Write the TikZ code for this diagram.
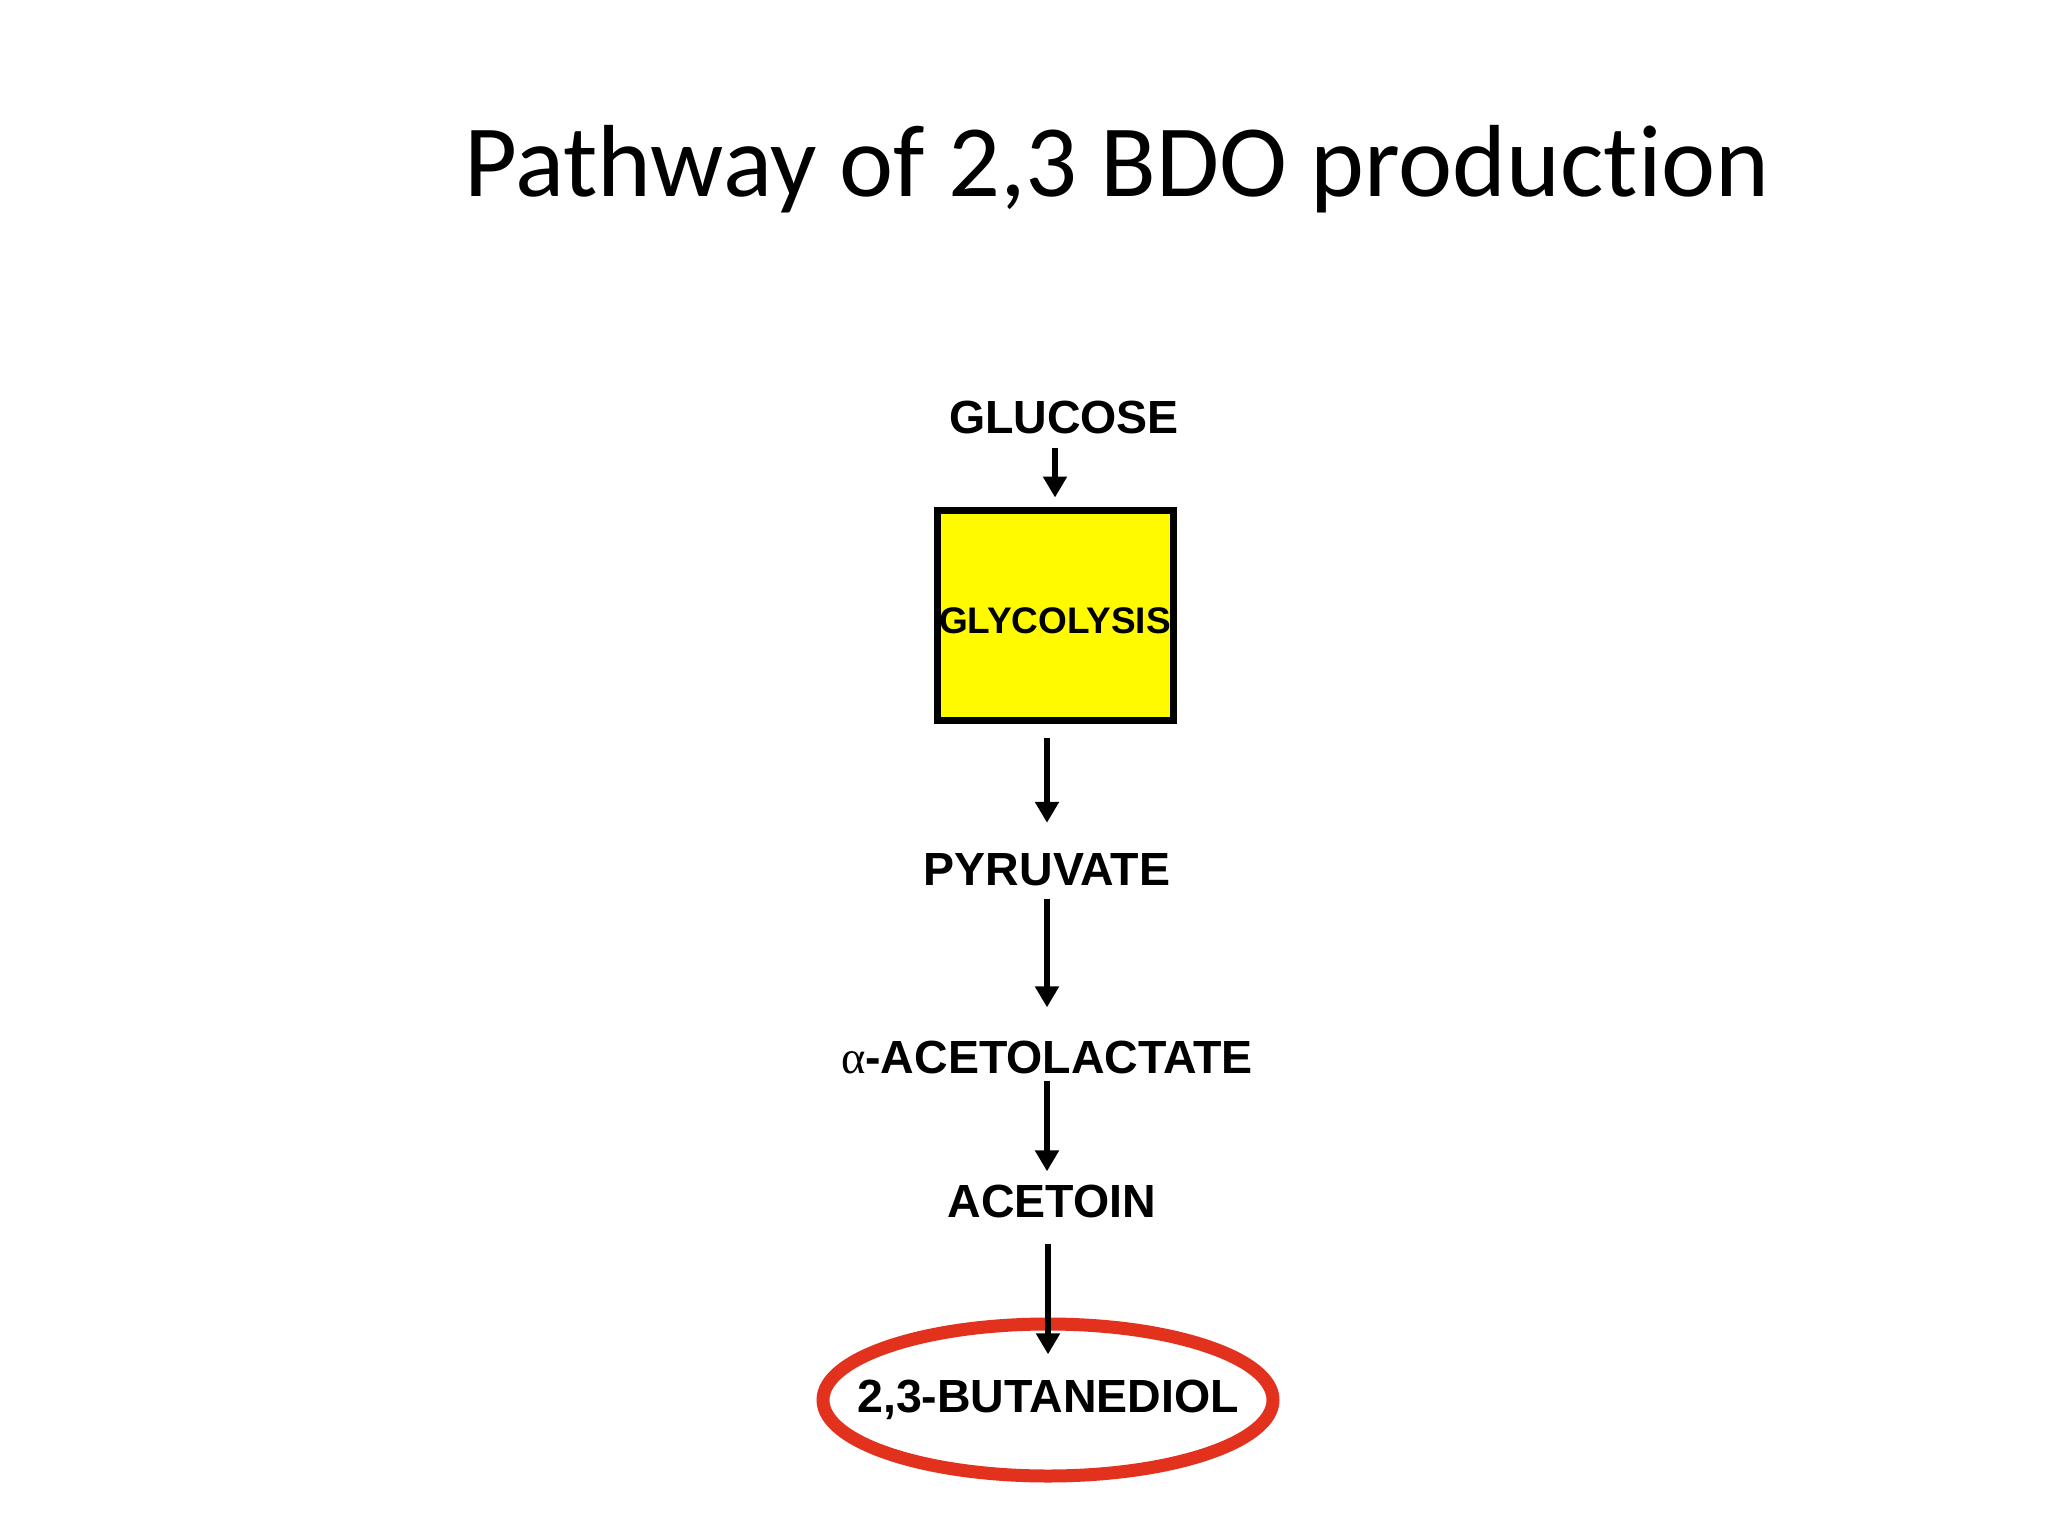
\documentclass[tikz,border=0pt]{standalone}
\usepackage{fontspec}
\setmainfont{Liberation Sans}
\newfontfamily\titlefont[Ligatures=NoCommon]{Carlito}
\newfontfamily\greekfont{Liberation Serif}
\usetikzlibrary{arrows.meta,shapes.geometric}
\definecolor{boxyellow}{RGB}{255,250,0}
\definecolor{ringred}{RGB}{226,50,30}
\begin{document}
\begin{tikzpicture}[x=1pt,y=-1pt,
  lbl/.style={inner sep=0pt,anchor=base,font=\fontsize{46.5}{50}\selectfont\bfseries},
  arr/.style={line width=6.5pt,-{Triangle[length=21pt,width=23pt]}},
  ]
\fill[white] (0,0) rectangle (2048,1536);
\useasboundingbox (0,0) rectangle (2048,1536);
% title
\node[inner sep=0pt,anchor=base,font=\fontsize{102.5}{110}\selectfont\titlefont] (title) at (1117,196) {Pathway of 2,3 BDO production};
% nodes
\node[lbl] (glucose) at (1064,433) {GLUCOSE};
\node[draw=black,line width=7pt,fill=boxyellow,inner sep=0pt,minimum width=236pt,minimum height=210pt] (box) at (1055,615) {};
\node[lbl,font=\fontsize{37}{40}\selectfont\bfseries] (glyc) at (1055,633) {GLYCOLYSIS};
\node[lbl] (pyr) at (1047,885) {PYRUVATE};
\node[lbl] (aceto) at (1047,1073) {{\greekfont\mdseries α}-ACETOLACTATE};
\node[lbl] (acetoin) at (1052,1217) {ACETOIN};
\node[draw=ringred,line width=13pt,ellipse,inner sep=0pt,minimum width=450pt,minimum height=152pt] (ring) at (1048,1400) {};
\node[lbl] (bdo) at (1048,1412) {2,3-BUTANEDIOL};
% arrows
\draw[arr,shorten <=14pt,shorten >=9pt] (glucose.south -| box.north) -- (box.north);
\draw[arr,shorten <=14pt,shorten >=30pt] (box.south -| pyr.north) -- (pyr.north);
\draw[arr,shorten <=13pt,shorten >=33pt] (pyr.south) -- (pyr.south |- aceto.north);
\draw[arr,shorten <=7pt,shorten >=13pt] (aceto.south) -- (aceto.south |- acetoin.north);
\draw[arr,shorten <=26pt,shorten >=25pt] (acetoin.south -| bdo.north) -- (bdo.north);
\end{tikzpicture}
\end{document}
